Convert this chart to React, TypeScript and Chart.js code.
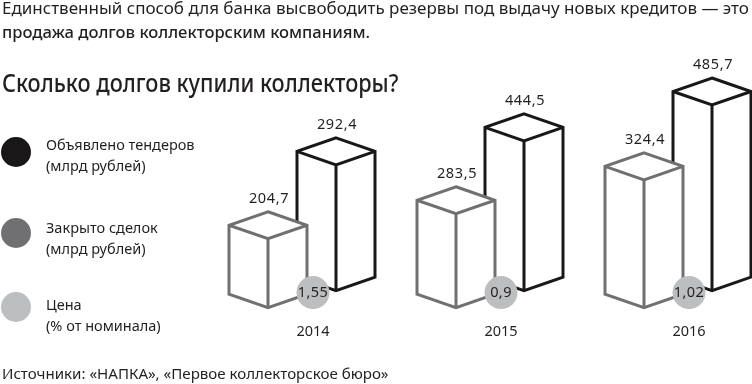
import React, { useEffect, useRef } from "react";
import { Chart, LinearScale, registerables } from "chart.js";

Chart.register(...registerables);

// The reference's columns are illustrative and not proportional to their values,
// so each series has an axis whose stops follow the heights seen in the picture.
class StoppedScale extends (LinearScale as any) {
  static id = "stopped";
  static defaults = (LinearScale as any).defaults;
  getPixelForValue(value: number) {
    const stops: number[][] = (this as any).options.stops;
    let i = 0;
    while (i < stops.length - 2 && value > stops[i + 1][0]) i++;
    const [v0, f0] = stops[i];
    const [v1, f1] = stops[i + 1];
    return (this as any).getPixelForDecimal(f0 + ((value - v0) / (v1 - v0)) * (f1 - f0));
  }
}
Chart.register(StoppedScale as any);

const years = ["2014", "2015", "2016"];
const closedDeals = [204.7, 283.5, 324.4];
const announcedTenders = [292.4, 444.5, 485.7];
const prices = ["1,55", "0,9", "1,02"];
const closedLabels = ["204,7", "283,5", "324,4"];
const announcedLabels = ["292,4", "444,5", "485,7"];
const closedAxisStops = [[0, 0], [204.7, 0.3317], [283.5, 0.4519], [324.4, 0.6154], [600, 1]];
const announcedAxisStops = [[0, 0], [292.4, 0.6875], [444.5, 0.8029], [485.7, 0.976], [600, 1]];

const FONT = '"Noto Sans", sans-serif';
const INK = "#231f20";
const DARK = "#1a1718";
const MID = "#707072";
const LIGHT = "#bcbec0";

const boxPlugin = {
  id: "boxes",
  afterDatasetsDraw(chart: any) {
    const { ctx } = chart;
    const drawBox = (el: any, color: string, floorLift: number, label: string) => {
      const cx = el.x;
      const half = el.width / 2;
      const top = el.y;
      const floor = chart.chartArea.bottom - floorLift;
      const d = 13.5;
      ctx.save();
      ctx.strokeStyle = color;
      ctx.lineWidth = 3;
      ctx.lineJoin = "miter";
      ctx.fillStyle = "#fff";
      ctx.beginPath();
      ctx.moveTo(cx, top - 2 * d);
      ctx.lineTo(cx + half, top - d);
      ctx.lineTo(cx + half, floor - d);
      ctx.lineTo(cx, floor);
      ctx.lineTo(cx - half, floor - d);
      ctx.lineTo(cx - half, top - d);
      ctx.closePath();
      ctx.fill();
      ctx.stroke();
      ctx.beginPath();
      ctx.moveTo(cx - half, top - d);
      ctx.lineTo(cx, top);
      ctx.lineTo(cx + half, top - d);
      ctx.moveTo(cx, top);
      ctx.lineTo(cx, floor);
      ctx.stroke();
      ctx.fillStyle = INK;
      ctx.font = `14.5px ${FONT}`;
      ctx.letterSpacing = "0.6px";
      ctx.textAlign = "center";
      ctx.textBaseline = "alphabetic";
      ctx.fillText(label, cx + 1, top - 2 * d - 9);
      ctx.restore();
    };
    const black = chart.getDatasetMeta(1).data;
    const gray = chart.getDatasetMeta(0).data;
    black.forEach((el: any, i: number) => drawBox(el, DARK, 17, announcedLabels[i]));
    gray.forEach((el: any, i: number) => drawBox(el, MID, 0, closedLabels[i]));
    prices.forEach((p, i) => {
      const x = chart.scales.x.getPixelForValue(i) + 11;
      const y = chart.chartArea.bottom - 15;
      ctx.save();
      ctx.fillStyle = LIGHT;
      ctx.beginPath();
      ctx.arc(x, y, 16.5, 0, Math.PI * 2);
      ctx.fill();
      ctx.fillStyle = INK;
      ctx.font = `14.5px ${FONT}`;
      ctx.letterSpacing = "0.4px";
      ctx.textAlign = "center";
      ctx.textBaseline = "middle";
      ctx.fillText(p, x, y);
      ctx.restore();
    });
  },
};

const textStyle: React.CSSProperties = {
  position: "absolute",
  fontFamily: FONT,
  color: INK,
  whiteSpace: "nowrap",
  lineHeight: "23px",
};

const legendItems = [
  { y: 152, color: DARK, lines: ["Объявлено тендеров", "(млрд рублей)"], textTop: 134 },
  { y: 233, color: MID, lines: ["Закрыто сделок", "(млрд рублей)"], textTop: 217 },
  { y: 307, color: LIGHT, lines: ["Цена", "(% от номинала)"], textTop: 294 },
];

export default function App() {
  const ref = useRef<HTMLCanvasElement | null>(null);
  useEffect(() => {
    document.body.style.margin = "0";
    const chart = new Chart(ref.current!, {
      type: "bar",
      data: {
        labels: years,
        datasets: [
          { label: "Закрыто сделок", data: closedDeals, yAxisID: "y", backgroundColor: "transparent" },
          { label: "Объявлено тендеров", data: announcedTenders, yAxisID: "y2", backgroundColor: "transparent" },
        ],
      },
      options: {
        responsive: false,
        animation: false,
        events: [],
        layout: { padding: { left: 302, right: 74, top: 100, bottom: 35 } },
        datasets: { bar: { categoryPercentage: 136 / 188, barPercentage: 78 / 68 } },
        plugins: { legend: { display: false }, tooltip: { enabled: false }, title: { display: false } },
        scales: {
          x: {
            offset: false,
            grid: { display: false },
            border: { display: false },
            ticks: {
              color: INK,
              maxRotation: 0,
              labelOffset: 11,
              padding: 8,
              font: { family: "Noto Sans", size: 14.5 },
            },
          },
          y: { type: "stopped", display: false, min: 0, max: 600, stops: closedAxisStops },
          y2: { type: "stopped", display: false, min: 0, max: 600, stops: announcedAxisStops },
        },
      },
      plugins: [boxPlugin],
    } as any);
    return () => chart.destroy();
  }, []);
  return (
    <div style={{ position: "absolute", left: 0, top: 0, width: 752, height: 384, background: "#fff", overflow: "hidden" }}>
      <canvas ref={ref} width={752} height={384} style={{ position: "absolute", left: 0, top: 0 }} />
      <div style={{ ...textStyle, left: 2, top: -4, fontSize: 17 }}>
        Единственный способ для банка высвободить резервы под выдачу новых кредитов — это
      </div>
      <div style={{ ...textStyle, left: 2, top: 20, fontSize: 16.6, fontWeight: 500 }}>
        продажа долгов коллекторским компаниям.
      </div>
      <div
        style={{
          ...textStyle,
          left: 2,
          top: 66,
          fontSize: 25,
          lineHeight: "32px",
          fontWeight: 500,
          transform: "scaleX(0.87)",
          transformOrigin: "left center",
        }}
      >
        Сколько долгов купили коллекторы?
      </div>
      {legendItems.map((item) => (
        <React.Fragment key={item.lines[0]}>
          <div
            style={{
              position: "absolute",
              left: 0.5,
              top: item.y - 15,
              width: 30,
              height: 30,
              borderRadius: "50%",
              background: item.color,
            }}
          />
          <div style={{ ...textStyle, left: 46, top: item.textTop, fontSize: 14.5, lineHeight: "21px" }}>
            {item.lines[0]}
            <br />
            {item.lines[1]}
          </div>
        </React.Fragment>
      ))}
      <div style={{ ...textStyle, left: 2, top: 362, fontSize: 15.1, lineHeight: "22px" }}>
        Источники: «НАПКА», «Первое коллекторское бюро»
      </div>
    </div>
  );
}
